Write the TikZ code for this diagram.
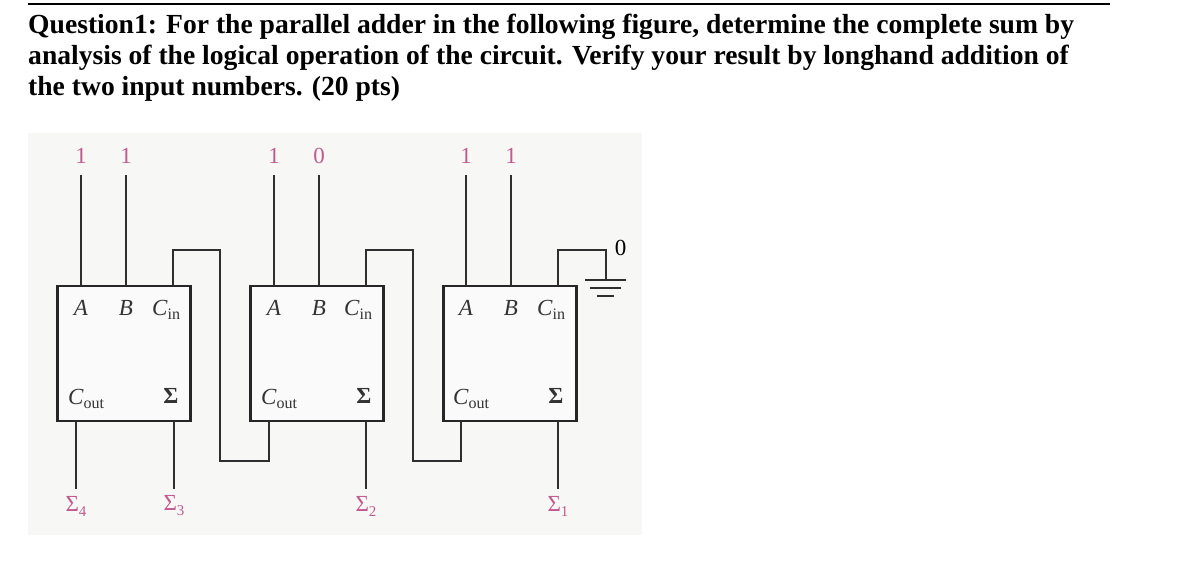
\documentclass[tikz,border=0pt]{standalone}
\usepackage{fontspec}
\setmainfont{Liberation Serif}
\usepackage{xcolor}
\usetikzlibrary{arrows.meta, positioning, calc}
\definecolor{panelgray}{HTML}{F7F7F6}
\definecolor{bitpink}{HTML}{C25A8E}
\definecolor{wiregray}{HTML}{2E2E2E}
\newcommand{\pinsub}[2]{\textit{#1}\raisebox{-4pt}{\fontsize{16}{16}\selectfont #2}}
\newcommand{\sumsub}[1]{Σ\raisebox{-5pt}{\fontsize{15}{15}\selectfont #1}}
\begin{document}
\begin{tikzpicture}[
    x=1pt, y=-1pt,
    % Estilo para los sumadores
    adder/.style = {
        rectangle,
        draw=black!85,
        fill=black!2,
        line width=2.4pt,
        minimum width=133pt,
        minimum height=135pt,
        inner sep=0pt,
        outer sep=0pt
    },
    % Estilo para las entradas y salidas (rosa)
    bit/.style = {
        text=bitpink,
        font=\fontsize{23}{23}\selectfont,
        inner sep=0pt,
        outer sep=0pt,
        minimum height=38pt
    },
    sumout/.style = {
        text=bitpink,
        font=\fontsize{23}{23}\selectfont,
        inner sep=0pt,
        outer sep=0pt,
        minimum height=34pt
    },
    % Estilo para las etiquetas internas
    pin/.style = {
        text=black!80,
        font=\fontsize{23}{23}\selectfont,
        inner sep=0pt
    },
    wire/.style = {draw=wiregray, line width=1.6pt},
    % Estilo para la pregunta
    question/.style = {
        anchor=north west,
        align=left,
        inner sep=0pt,
        font=\bfseries\fontsize{27.6}{31}\selectfont
    }
]
    \useasboundingbox (0,0) rectangle (1180,562);

    % --- ENUNCIADO ---
    \draw [black, line width=2.4pt] (28,4) -- (1110,4);
    \node [question] (quest) at (28,14) {Question1: For the parallel adder in the following figure, determine the complete sum by\\analysis of the logical operation of the circuit. Verify your result by longhand addition of\\the two input numbers. (20 pts)};

    % --- NODOS ---
    \node [fill=panelgray, minimum width=614pt, minimum height=402pt, inner sep=0pt] (panel) at (335,334) {};

    % Sumadores
    \node [adder] (add4) at (124,353.5) {};
    \node [adder, right=60pt of add4] (add3) {};
    \node [adder, right=60pt of add3] (add2) {};

    % Entradas
    \node [bit, anchor=south] (a4) at (81,175) {1};
    \node [bit, anchor=south] (b4) at (126,175) {1};
    \node [bit, anchor=south] (a3) at (274,175) {1};
    \node [bit, anchor=south] (b3) at (319,175) {0};
    \node [bit, anchor=south] (a2) at (466,175) {1};
    \node [bit, anchor=south] (b2) at (511,175) {1};
    \node [font=\fontsize{23}{23}\selectfont, inner sep=0pt] (zero) at (620.5,248) {0};

    % Salidas
    \node [sumout, anchor=north] (s4) at (76,489) {\sumsub{4}};
    \node [sumout, anchor=north] (s3) at (174,489) {\sumsub{3}};
    \node [sumout, anchor=north] (s2) at (366,489) {\sumsub{2}};
    \node [sumout, anchor=north] (s1) at (558,489) {\sumsub{1}};

    % Etiquetas internas
    \node [pin] (pa4) at (81,308) {\textit{A}};
    \node [pin] (pb4) at (126,308) {\textit{B}};
    \node [pin] (pc4) at (166,310) {\pinsub{C}{in}};
    \node [pin] (po4) at (86,399) {\pinsub{C}{out}};
    \node [pin] (ps4) at (171,396) {\textbf{Σ}};
    \node [pin] (pa3) at (274,308) {\textit{A}};
    \node [pin] (pb3) at (319,308) {\textit{B}};
    \node [pin] (pc3) at (358,310) {\pinsub{C}{in}};
    \node [pin] (po3) at (279,399) {\pinsub{C}{out}};
    \node [pin] (ps3) at (364,396) {\textbf{Σ}};
    \node [pin] (pa2) at (466,308) {\textit{A}};
    \node [pin] (pb2) at (511,308) {\textit{B}};
    \node [pin] (pc2) at (551,310) {\pinsub{C}{in}};
    \node [pin] (po2) at (471,399) {\pinsub{C}{out}};
    \node [pin] (ps2) at (556,396) {\textbf{Σ}};

    % Tierra
    \coordinate (gnd) at (606,280);

    % --- CONEXIONES ---

    % Entradas hacia sumadores
    \draw [wire] (a4) -- (a4 |- add4.north);
    \draw [wire] (b4) -- (b4 |- add4.north);
    \draw [wire] (a3) -- (a3 |- add3.north);
    \draw [wire] (b3) -- (b3 |- add3.north);
    \draw [wire] (a2) -- (a2 |- add2.north);
    \draw [wire] (b2) -- (b2 |- add2.north);

    % Acarreos entre sumadores
    \draw [wire] (173,286) |- (220,250) |- (269,461) -- (269,421);
    \draw [wire] (366,286) |- (413,250) |- (461,461) -- (461,421);
    \draw [wire] (558,286) |- (gnd |- 0,250) -- (gnd);

    % Salidas
    \draw [wire] (s4 |- add4.south) -- (s4);
    \draw [wire] (s3 |- add4.south) -- (s3);
    \draw [wire] (s2 |- add3.south) -- (s2);
    \draw [wire] (s1 |- add2.south) -- (s1);

    % Tierra
    \draw [wire] ([xshift=-21pt]gnd) -- ([xshift=20pt]gnd);
    \draw [wire] ($(gnd)+(-16,8)$) -- ($(gnd)+(15,8)$);
    \draw [wire] ($(gnd)+(-9,16)$) -- ($(gnd)+(8,16)$);

\end{tikzpicture}
\end{document}
